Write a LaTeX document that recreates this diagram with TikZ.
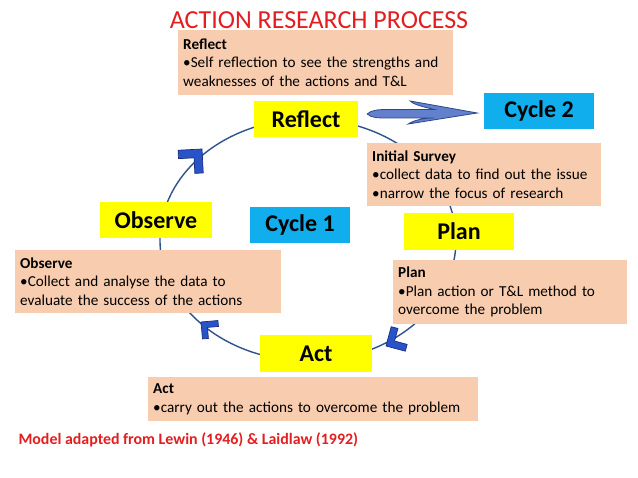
\documentclass[tikz,border=0pt]{standalone}
\usepackage{fontspec}
\setmainfont{Carlito}
\definecolor{peach}{RGB}{248,204,174}
\definecolor{yel}{RGB}{255,255,0}
\definecolor{cyanbox}{RGB}{16,174,236}
\definecolor{titlered}{RGB}{228,30,32}
\definecolor{ringcol}{RGB}{46,82,140}
\definecolor{chevfill}{RGB}{40,84,200}
\definecolor{chevline}{RGB}{24,44,130}
\definecolor{bigarrowfill}{RGB}{98,128,204}
\definecolor{bigarrowline}{RGB}{44,70,140}
\begin{document}
\begin{tikzpicture}[x=1pt,y=-1pt,
  infobox/.style={fill=peach, anchor=north west, align=left, inner xsep=5pt, inner ysep=2pt,
    font=\fontsize{15.2}{18.5}\selectfont},
  yellowbox/.style={fill=yel, inner sep=0pt, font=\bfseries\fontsize{24}{26}\selectfont},
  bluebox/.style={fill=cyanbox, inner sep=0pt, font=\bfseries\fontsize{24}{26}\selectfont},
  ringline/.style={draw=ringcol, line width=1.4pt},
  chevron/.pic={\filldraw[fill=chevfill, draw=chevline, line width=0.7pt]
    (0,0) -- (-14.1,14.1) -- (-19.1,9.2) -- (-9.9,0) -- (-19.1,-9.2) -- (-14.1,-14.1) -- cycle;}
]
\fill[white] (0,0) rectangle (638,478);
\useasboundingbox (0,0) rectangle (638,478);

% cycle ring
\draw[ringline] (308,240) ellipse [x radius=148pt, y radius=121pt];

% chevron arrow heads on the ring
\pic[rotate=48, scale=1.2] at (202,149) {chevron};
\pic[rotate=140, scale=0.85] at (201,322) {chevron};
\pic[rotate=-150] at (386,346) {chevron};

% title
\node[text=titlered, font=\fontsize{26}{30}\selectfont] (title) at (319,20) {ACTION RESEARCH PROCESS};

% info boxes
\node[infobox, minimum width=275pt, minimum height=65pt, text width=265pt] (reflectinfo) at (178,30)
  {\textbf{Reflect}\\•Self reflection to see the strengths and\\weaknesses of the actions and T\&L};
\node[infobox, minimum width=234pt, minimum height=63pt, text width=224pt] (surveyinfo) at (367,143)
  {\textbf{Initial Survey}\\•collect data to find out the issue\\•narrow the focus of research};
\node[infobox, minimum width=266pt, minimum height=63pt, text width=256pt] (observeinfo) at (15,250)
  {\textbf{Observe}\\•Collect and analyse the data to\\evaluate the success of the actions};
\node[infobox, minimum width=234pt, minimum height=64pt, text width=224pt] (planinfo) at (393,260)
  {\textbf{Plan}\\•Plan action or T\&L method to\\overcome the problem};
\node[infobox, minimum width=330pt, minimum height=44pt, text width=320pt] (actinfo) at (148,377)
  {\textbf{Act}\\•carry out the actions to overcome the problem};

% stage boxes
\node[yellowbox, minimum width=104pt, minimum height=36pt] (reflect) at (306,119) {Reflect};
\node[yellowbox, minimum width=110pt, minimum height=37pt] (plan) at (459,231.5) {Plan};
\node[yellowbox, minimum width=112pt, minimum height=36pt] (observe) at (156,220) {Observe};
\node[yellowbox, minimum width=112pt, minimum height=37pt] (act) at (316,353.5) {Act};
\node[bluebox, minimum width=100pt, minimum height=36pt] (cycle1) at (300,225) {Cycle 1};
\node[bluebox, minimum width=110pt, minimum height=36pt] (cycle2) at (539,111) {Cycle 2};

% big arrow Reflect -> Cycle 2
\begin{scope}[shift={(reflect.east)}]
\filldraw[fill=bigarrowfill, draw=bigarrowline, line width=0.8pt]
  (9,-5) .. controls (13,-9) and (20,-9.5) .. (30,-9.5)
  -- (76,-9.5) .. controls (66,-12) and (56,-14) .. (52,-18)
  -- (119,-6)
  -- (50,5) .. controls (56,1) and (66,-1) .. (76,-1)
  -- (30,-1) .. controls (20,-1) and (13,-1) .. (9,-5) -- cycle;
\end{scope}

% footer
\node[anchor=west, text=titlered, font=\bfseries\fontsize{15.9}{18}\selectfont] (footer) at (15,440)
  {Model adapted from Lewin (1946) \& Laidlaw (1992)};
\end{tikzpicture}
\end{document}
